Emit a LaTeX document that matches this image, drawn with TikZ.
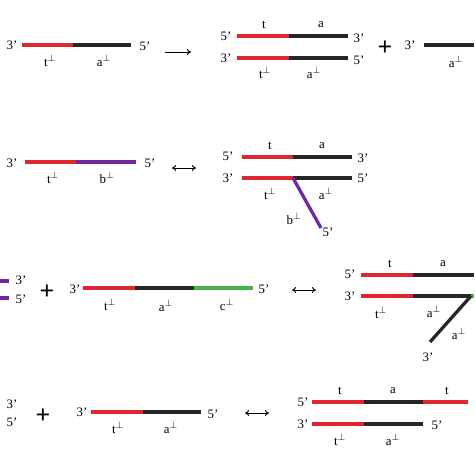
\documentclass[tikz,border=0pt]{standalone}
\usepackage{fontspec}
\setmainfont{Liberation Serif}
\usepackage{tikz}
\usetikzlibrary{arrows.meta}

\definecolor{strandred}{RGB}{222,38,48}
\definecolor{strandpur}{RGB}{112,40,160}
\definecolor{strandgrn}{RGB}{70,180,70}

\begin{document}
\begin{tikzpicture}[x=0.03cm,y=-0.03cm,
  seg/.style={line width=2.8pt},
  red seg/.style={seg,draw=strandred},
  blk seg/.style={seg,draw=black!85},
  pur seg/.style={seg,draw=strandpur},
  grn seg/.style={seg,draw=strandgrn},
  end lbl/.style={inner sep=0pt,font=\fontsize{11}{13}\selectfont},
  dom lbl/.style={inner sep=0pt,font=\fontsize{11}{13}\selectfont},
  plus sign/.style={inner sep=0pt,font=\fontsize{22}{22}\selectfont\bfseries},
  react/.style={line width=0.8pt,{To[length=3.5pt,width=5pt]}-{To[length=3.5pt,width=5pt]}},
  yields/.style={line width=0.8pt,-{To[length=3.5pt,width=5pt]}}]

\useasboundingbox (0,0) rectangle (474,474);

% ---- row 1 ----
\node[end lbl] (r1s3) at (12,45) {3'};
\coordinate (r1a) at (22,45);
\coordinate (r1b) at (73,45);
\coordinate (r1c) at (131,45);
\node[end lbl] (r1s5) at (145,46) {5'};
\draw[red seg] (r1a) -- (r1b);
\draw[blk seg] (r1b) -- (r1c);
\node[dom lbl] (r1t) at (50,61) {t$^{\perp}$};
\node[dom lbl] (r1x) at (104,61) {a$^{\perp}$};

\coordinate (r1p) at (165,52);
\coordinate (r1q) at (191,52);
\draw[yields] (r1p) -- (r1q);

\node[end lbl] (d1u5) at (226,36) {5'};
\coordinate (d1ua) at (237,36);
\coordinate (d1ub) at (289,36);
\coordinate (d1uc) at (348,36);
\node[end lbl] (d1u3) at (359,38) {3'};
\draw[red seg] (d1ua) -- (d1ub);
\draw[blk seg] (d1ub) -- (d1uc);
\node[dom lbl] (d1t) at (264,25) {t};
\node[dom lbl] (d1x) at (321,25) {a};

\node[end lbl] (d1l3) at (226,58) {3'};
\coordinate (d1la) at (237,58);
\coordinate (d1lb) at (289,58);
\coordinate (d1lc) at (348,58);
\node[end lbl] (d1l5) at (359,60) {5'};
\draw[red seg] (d1la) -- (d1lb);
\draw[blk seg] (d1lb) -- (d1lc);
\node[dom lbl] (d1tp) at (265,73) {t$^{\perp}$};
\node[dom lbl] (d1xp) at (314,73) {a$^{\perp}$};

\node[plus sign] (r1plus) at (385,48) {+};

\node[end lbl] (w1s3) at (410,45) {3'};
\coordinate (w1a) at (424,45);
\coordinate (w1b) at (474,45);
\draw[blk seg] (w1a) -- (w1b);
\node[dom lbl] (w1x) at (456,62) {a$^{\perp}$};

% ---- row 2 ----
\node[end lbl] (r2s3) at (12,163) {3'};
\coordinate (r2a) at (25,162);
\coordinate (r2b) at (76,162);
\coordinate (r2c) at (136,162);
\node[end lbl] (r2s5) at (150,163) {5'};
\draw[red seg] (r2a) -- (r2b);
\draw[pur seg] (r2b) -- (r2c);
\node[dom lbl] (r2t) at (53,178) {t$^{\perp}$};
\node[dom lbl] (r2y) at (107,178) {b$^{\perp}$};

\coordinate (r2p) at (172,168);
\coordinate (r2q) at (196,168);
\draw[react] (r2p) -- (r2q);

\node[end lbl] (d2u5) at (228,156) {5'};
\coordinate (d2ua) at (242,157);
\coordinate (d2ub) at (293,157);
\coordinate (d2uc) at (352,157);
\node[end lbl] (d2u3) at (363,158) {3'};
\draw[red seg] (d2ua) -- (d2ub);
\draw[blk seg] (d2ub) -- (d2uc);
\node[dom lbl] (d2t) at (270,146) {t};
\node[dom lbl] (d2x) at (322,146) {a};

\node[end lbl] (d2l3) at (228,178) {3'};
\coordinate (d2la) at (242,178);
\coordinate (d2lb) at (293,178);
\coordinate (d2lc) at (352,178);
\node[end lbl] (d2l5) at (363,178) {5'};
\draw[red seg] (d2la) -- (d2lb);
\draw[blk seg] (d2lb) -- (d2lc);
\coordinate (d2br) at (321,228);
\draw[pur seg] (d2lb) -- (d2br);
\node[end lbl] (d2b5) at (328,232) {5'};
\node[dom lbl] (d2tp) at (270,194) {t$^{\perp}$};
\node[dom lbl] (d2xp) at (326,194) {a$^{\perp}$};
\node[dom lbl] (d2yp) at (294,219) {b$^{\perp}$};

% ---- row 3 ----
\coordinate (w3ua) at (0,281);
\coordinate (w3ub) at (9,281);
\coordinate (w3la) at (0,298);
\coordinate (w3lb) at (9,298);
\draw[pur seg] (w3ua) -- (w3ub);
\draw[pur seg] (w3la) -- (w3lb);
\node[end lbl] (w3s3) at (21,280) {3'};
\node[end lbl] (w3s5) at (21,299) {5'};

\node[plus sign] (r3plus) at (47,292) {+};

\node[end lbl] (r3s3) at (75,289) {3'};
\coordinate (r3a) at (83,288);
\coordinate (r3b) at (135,288);
\coordinate (r3c) at (194,288);
\coordinate (r3d) at (253,288);
\node[end lbl] (r3s5) at (264,289) {5'};
\draw[red seg] (r3a) -- (r3b);
\draw[blk seg] (r3b) -- (r3c);
\draw[grn seg] (r3c) -- (r3d);
\node[dom lbl] (r3t) at (110,305) {t$^{\perp}$};
\node[dom lbl] (r3x) at (166,306) {a$^{\perp}$};
\node[dom lbl] (r3z) at (227,305) {c$^{\perp}$};

\coordinate (r3p) at (292,290);
\coordinate (r3q) at (316,290);
\draw[react] (r3p) -- (r3q);

\node[end lbl] (d3u5) at (350,274) {5'};
\coordinate (d3ua) at (361,275);
\coordinate (d3ub) at (413,275);
\coordinate (d3uc) at (474,275);
\draw[red seg] (d3ua) -- (d3ub);
\draw[blk seg] (d3ub) -- (d3uc);
\node[dom lbl] (d3t) at (390,264) {t};
\node[dom lbl] (d3x) at (443,264) {a};

\node[end lbl] (d3l3) at (350,296) {3'};
\coordinate (d3la) at (361,296);
\coordinate (d3lb) at (413,296);
\coordinate (d3lc) at (471,296);
\coordinate (d3ld) at (474,296);
\draw[red seg] (d3la) -- (d3lb);
\draw[blk seg] (d3lb) -- (d3lc);
\draw[grn seg] (d3lc) -- (d3ld);
\coordinate (d3br) at (430,342);
\draw[blk seg] (d3lc) -- (d3br);
\node[end lbl] (d3b3) at (428,357) {3'};
\node[dom lbl] (d3tp) at (381,313) {t$^{\perp}$};
\node[dom lbl] (d3xp) at (434,312) {a$^{\perp}$};
\node[dom lbl] (d3yp) at (459,334) {a$^{\perp}$};

% ---- row 4 ----
\node[end lbl] (w4s3) at (12,404) {3'};
\node[end lbl] (w4s5) at (12,422) {5'};

\node[plus sign] (r4plus) at (43,416) {+};

\node[end lbl] (r4s3) at (82,412) {3'};
\coordinate (r4a) at (91,412);
\coordinate (r4b) at (143,412);
\coordinate (r4c) at (201,412);
\node[end lbl] (r4s5) at (213,414) {5'};
\draw[red seg] (r4a) -- (r4b);
\draw[blk seg] (r4b) -- (r4c);
\node[dom lbl] (r4t) at (118,428) {t$^{\perp}$};
\node[dom lbl] (r4x) at (171,428) {a$^{\perp}$};

\coordinate (r4p) at (245,413);
\coordinate (r4q) at (269,413);
\draw[react] (r4p) -- (r4q);

\node[end lbl] (d4u5) at (303,402) {5'};
\coordinate (d4ua) at (312,402);
\coordinate (d4ub) at (364,402);
\coordinate (d4uc) at (423,402);
\coordinate (d4ud) at (468,402);
\draw[red seg] (d4ua) -- (d4ub);
\draw[blk seg] (d4ub) -- (d4uc);
\draw[red seg] (d4uc) -- (d4ud);
\node[dom lbl] (d4t) at (340,391) {t};
\node[dom lbl] (d4x) at (393,391) {a};
\node[dom lbl] (d4w) at (447,391) {t};

\node[end lbl] (d4l3) at (303,424) {3'};
\coordinate (d4la) at (312,424);
\coordinate (d4lb) at (364,424);
\coordinate (d4lc) at (423,424);
\node[end lbl] (d4l5) at (437,425) {5'};
\draw[red seg] (d4la) -- (d4lb);
\draw[blk seg] (d4lb) -- (d4lc);
\node[dom lbl] (d4tp) at (340,440) {t$^{\perp}$};
\node[dom lbl] (d4xp) at (393,440) {a$^{\perp}$};

\end{tikzpicture}
\end{document}
